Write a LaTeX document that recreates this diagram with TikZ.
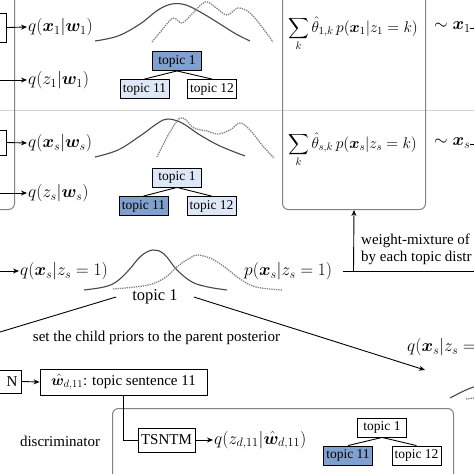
\RequirePackage{fix-cm}
\documentclass[tikz,border=0pt]{standalone}
\usepackage{amsmath,bm}
\usepackage{fontspec}
\setmainfont{Liberation Serif}
\usetikzlibrary{arrows.meta,calc}
\definecolor{tdark}{RGB}{128,160,208}
\definecolor{tlight}{RGB}{221,231,245}
\definecolor{boxgray}{RGB}{130,130,130}
\definecolor{sepgray}{RGB}{212,212,212}
\begin{document}
\begin{tikzpicture}[x=1pt,y=-1pt,
  tnode/.style={draw=black, line width=0.9pt, minimum width=49pt, minimum height=19pt, inner sep=1pt, font=\fontsize{13.5}{15}\selectfont},
  tdk/.style={tnode, fill=tdark},
  tlt/.style={tnode, fill=tlight},
  twh/.style={tnode, fill=white},
  plainbox/.style={draw=black, line width=0.9pt, inner sep=2pt, font=\fontsize{15}{17}\selectfont},
  lbl/.style={inner sep=1pt, font=\fontsize{17.5}{19}\selectfont},
  mixl/.style={inner sep=1pt, font=\fontsize{15.5}{17}\selectfont},
  txt/.style={inner sep=1pt, font=\fontsize{15}{17}\selectfont},
  arr/.style={-{Stealth[length=6pt,width=5pt]}, line width=0.9pt},
  conn/.style={line width=0.9pt},
  container/.style={draw=boxgray, line width=1pt, rounded corners=6pt},
  solidc/.style={draw=black!72, line width=1.1pt},
  dotc/.style={draw=black!50, line width=1.3pt, densely dotted}
]
\useasboundingbox (0,0) rectangle (474,474);
\clip (0,0) rectangle (474,474);

% separator
\draw[sepgray, line width=1pt] (-5,110) -- (480,110);

% containers
\node[container, minimum width=80pt, minimum height=228pt, anchor=south east] (leftbox) at (15,210) {};
\node[container, minimum width=143pt, minimum height=216pt, anchor=south west] (mixbox) at (282,210) {};
\node[container, minimum width=341pt, minimum height=80pt, anchor=north west] (disc) at (112,408) {};

% ---------- row 1 ----------
\node[plainbox, minimum width=40pt, minimum height=29pt, anchor=east] (encA) at (7,27.5) {};
\node[lbl, anchor=west] (qx1) at (27,27) {$q(\bm{x}_1|\bm{w}_1)$};
\draw[arr] (encA.east) -- (qx1.west);
\coordinate (za) at (-3,80);
\node[lbl, anchor=west] (qz1) at (27,80) {$q(z_1|\bm{w}_1)$};
\draw[arr] (za) -- (qz1.west);

\draw[solidc] plot[smooth, tension=0.6] coordinates {(95,41) (118,36) (140,24) (158,10) (172,4) (186,5) (202,13) (220,24) (236,34) (250,41)};
\draw[dotc] plot[smooth, tension=0.6] coordinates {(152,42) (162,30) (173,18) (182,23) (192,14) (205,2) (215,7) (227,15) (238,8) (250,13) (262,27) (273,42)};

\node[tdk] (t1a) at (177,61) {topic 1};
\node[tlt] (t11a) at (144.5,89) {topic 11};
\node[twh] (t12a) at (212,89) {topic 12};
\draw[conn] (t1a.south) -- (t11a.north);
\draw[conn] (t1a.south) -- (t12a.north);

\node[mixl, anchor=base west] (mix1) at (287,32) {$\displaystyle\sum_k \hat{\theta}_{1,k}\, p(\bm{x}_1|z_1 = k)$};
\node[lbl, anchor=west] (sx1) at (433,27) {$\sim \bm{x}_1$};
\coordinate (sx1a) at (470,28);
\coordinate (sx1b) at (480,28);
\draw[conn] (sx1a) -- (sx1b);

% ---------- row 2 ----------
\node[plainbox, minimum width=40pt, minimum height=25pt, anchor=east] (encB) at (7,142.5) {};
\node[lbl, anchor=west] (qxs) at (27,143) {$q(\bm{x}_s|\bm{w}_s)$};
\draw[arr] (encB.east) -- (qxs.west);
\coordinate (zb) at (-3,193);
\node[lbl, anchor=west] (qzs) at (27,193) {$q(z_s|\bm{w}_s)$};
\draw[arr] (zb) -- (qzs.west);

\draw[solidc] plot[smooth, tension=0.6] coordinates {(95,157) (118,150) (140,136) (158,123) (168,119) (182,123) (200,135) (220,146) (245,156)};
\draw[dotc] plot[smooth, tension=0.6] coordinates {(157,157) (165,141) (173,127) (180,118) (186,120) (194,128) (207,131) (218,134) (230,130) (240,123) (250,130) (262,145) (274,158)};

\node[tlt] (t1b) at (177,177.5) {topic 1};
\node[tdk] (t11b) at (143.5,206) {topic 11};
\node[tlt] (t12b) at (211.5,206) {topic 12};
\draw[conn] (t1b.south) -- (t11b.north);
\draw[conn] (t1b.south) -- (t12b.north);

\node[mixl, anchor=base west] (mix2) at (287,148) {$\displaystyle\sum_k \hat{\theta}_{s,k}\, p(\bm{x}_s|z_s = k)$};
\node[lbl, anchor=west] (sxs) at (433,143) {$\sim \bm{x}_s$};
\coordinate (sxsa) at (470,144);
\coordinate (sxsb) at (480,144);
\draw[conn] (sxsa) -- (sxsb);

% ---------- middle ----------
\coordinate (zc) at (-3,271);
\node[lbl, anchor=west] (qxz) at (19,271) {$q(\bm{x}_s|z_s = 1)$};
\draw[arr] (zc) -- (qxz.west);

\draw[solidc] plot[smooth, tension=0.6] coordinates {(84,290) (104,287) (116,282) (128,271) (141,256) (153,250) (164,254) (177,270) (192,282) (208,287) (227,290)};
\draw[dotc] plot[smooth, tension=0.6] coordinates {(113,289) (135,287) (152,284) (166,277) (178,266) (190,258) (198,255) (212,259) (226,268) (240,279) (256,287) (282,290)};

\node[inner xsep=16pt, inner ysep=1pt, font=\fontsize{16.5}{18}\selectfont] (topic1m) at (155,297) {topic 1};
\coordinate (lEnd) at (-5,333.5);
\coordinate (arrEnd) at (425,370);
\draw[conn] (topic1m.west) -- (lEnd);
\draw[arr] (topic1m.east) -- (arrEnd);

\node[lbl, anchor=west] (pxs) at (243,271) {$p(\bm{x}_s|z_s = 1)$};
\coordinate (junc) at (353.5,271);
\coordinate (wr) at (480,271);
\draw[conn] (pxs.east) ++(10,0) -- (wr);
\draw[arr] (junc) -- (mixbox.south);
\node[txt, anchor=west] (wm1) at (360,241) {weight-mixture of};
\node[txt, anchor=west] (wm2) at (360,258) {by each topic distr};

\node[txt] (setp) at (156.5,338) {set the child priors to the parent posterior};
\node[lbl, anchor=west] (qxr) at (406,347) {$q(\bm{x}_s|z_s =$};
\draw[solidc] (450,398) .. controls (458,394) and (466,389) .. (477,386);
\draw[dotc] (466,399) -- (474,398);

% ---------- bottom ----------
\node[plainbox, anchor=east, minimum height=23pt, text width=40pt, align=right, inner xsep=4pt] (gen) at (22,381.5) {N};
\node[plainbox, minimum width=167pt, minimum height=26pt] (sent) at (123.5,382) {$\hat{\bm{w}}_{d,11}$: topic sentence 11};
\draw[arr] (gen.east) -- (sent.west);
\node[plainbox, minimum width=57pt, minimum height=24pt] (tsntm) at (166.5,440) {TSNTM};
\draw[conn] (sent.south) |- (tsntm.west);
\node[lbl, anchor=west] (qzd) at (213,440) {$q(z_{d,11}|\hat{\bm{w}}_{d,11})$};
\draw[arr] (tsntm.east) -- (qzd.west);
\node[txt] (discl) at (60,441) {discriminator};

\node[twh] (t1c) at (382,427.5) {topic 1};
\node[tdk] (t11c) at (348,455.5) {topic 11};
\node[twh] (t12c) at (416.5,455.5) {topic 12};
\draw[conn] (t1c.south) -- (t11c.north);
\draw[conn] (t1c.south) -- (t12c.north);
\end{tikzpicture}
\end{document}
